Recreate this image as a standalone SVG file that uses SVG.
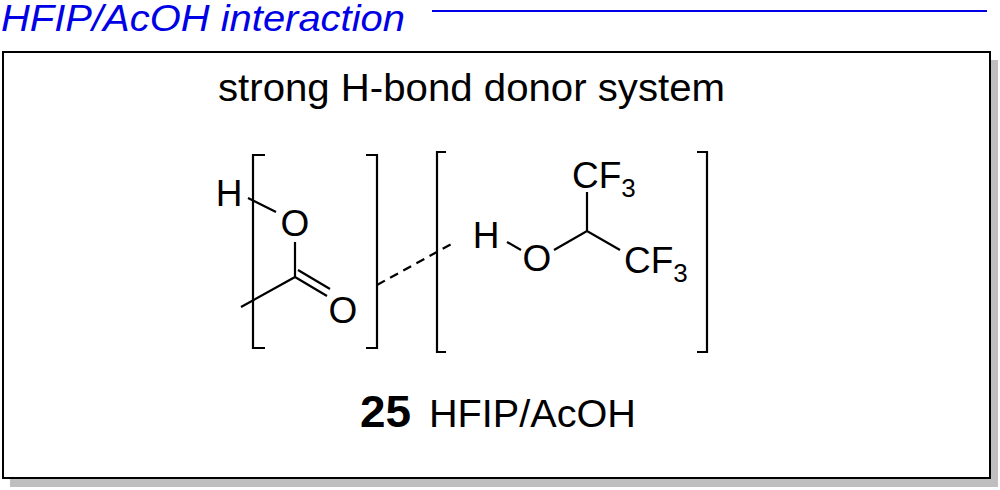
<svg xmlns="http://www.w3.org/2000/svg" width="1000" height="490" viewBox="0 0 1000 490">
<style>
text{font-family:"Liberation Sans",Arial,sans-serif;fill:#000}
.a{font-size:37px}
.b{stroke:#000;stroke-width:2.2;fill:none}
.s{font-size:26px}
</style>
<rect width="1000" height="490" fill="#fff"/>
<text x="1" y="31" style="font-size:37px;font-style:italic;fill:#0000e6" textLength="404" lengthAdjust="spacingAndGlyphs">HFIP/AcOH interaction</text>
<line x1="432" y1="11" x2="987" y2="11" stroke="#0000e6" stroke-width="2.2"/>
<rect x="10" y="60" width="988" height="427" fill="#bfbfbf"/>
<rect x="3" y="52" width="987" height="426" fill="#fff" stroke="#000" stroke-width="2"/>
<text x="218" y="101" style="font-size:38px" textLength="507" lengthAdjust="spacingAndGlyphs">strong H-bond donor system</text>
<g id="acoh">
<path class="b" d="M265,155H253V348H265M366,155H377V348H366"/>
<text class="a" x="229" y="206" text-anchor="middle">H</text>
<text class="a" x="295" y="236" text-anchor="middle">O</text>
<text class="a" x="343" y="323" text-anchor="middle">O</text>
<path class="b" d="M248,198L276,212M295,242V277L241,307M295,277L327,296M298,270L330,289"/>
</g>
<line class="b" x1="377" y1="285" x2="455" y2="242" stroke-dasharray="9,6"/>
<g id="hfip">
<path class="b" d="M446,152H437V352H446M697,152H707V352H697"/>
<text class="a" x="486" y="248" text-anchor="middle">H</text>
<text class="a" x="537" y="271" text-anchor="middle">O</text>
<path class="b" d="M507,242L521,250M554,250L587,231L620,250M587,231V192"/>
<text class="a" x="572" y="188">CF<tspan class="s" dy="9">3</tspan></text>
<text class="a" x="624" y="273">CF<tspan class="s" dy="9">3</tspan></text>
</g>
<text x="360" y="427" style="font-size:44px;font-weight:bold" textLength="51" lengthAdjust="spacingAndGlyphs">25</text>
<text x="429" y="427" style="font-size:38px" textLength="207" lengthAdjust="spacingAndGlyphs">HFIP/AcOH</text>
</svg>
